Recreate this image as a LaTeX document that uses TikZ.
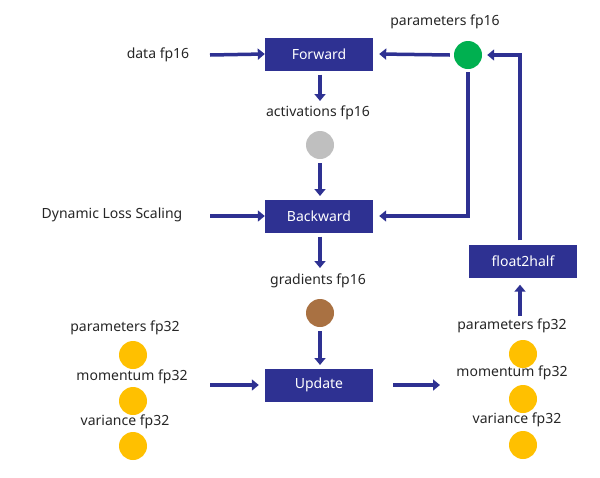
\documentclass[tikz,border=0pt]{standalone}
\usepackage{fontspec}
\setmainfont{Noto Sans}
\usetikzlibrary{arrows.meta}
\definecolor{nv}{HTML}{2E3192}
\definecolor{gr}{HTML}{00B050}
\definecolor{gy}{HTML}{BFBFBF}
\definecolor{br}{HTML}{A97142}
\definecolor{yl}{HTML}{FFC000}
\begin{document}
\begin{tikzpicture}[x=1pt,y=-1pt,font=\fontsize{14}{16}\selectfont,
 box/.style={fill=nv,text=white,minimum width=108pt,minimum height=33pt,inner sep=0pt},
 dot/.style={circle,fill=#1,minimum size=28pt,inner sep=0pt},
 lab/.style={inner sep=1pt,text=black!85},
 ar/.style={draw=nv,line width=3.5pt,-{Triangle[length=7pt,width=11pt]}}]
\useasboundingbox (0,0) rectangle (600,477);
\node[box] (fw) at (319,54) {Forward};
\node[box] (bw) at (319,216) {Backward};
\node[box] (up) at (319,385) {Update};
\node[box] (f2h) at (523,261) {float2half};
\node[lab] (data) at (158,55) {data fp16};
\node[lab] (dls) at (112,215) {Dynamic Loss Scaling};
\node[dot=gr] (p16) at (468,55) {};
\node[lab] (p16t) at (445,22) {parameters fp16};
\node[lab] (act) at (318,113) {activations fp16};
\node[dot=gy] (a16) at (320,145) {};
\node[lab] (grd) at (318,281) {gradients fp16};
\node[dot=br] (g16) at (320,313) {};
\node[lab] (lp) at (125,328) {parameters fp32};
\node[dot=yl] (lpc) at (133,355) {};
\node[lab] (lm) at (132,377) {momentum fp32};
\node[dot=yl] (lmc) at (133,401) {};
\node[lab] (lv) at (125,422) {variance fp32};
\node[dot=yl] (lvc) at (133,446) {};
\node[lab] (rp) at (512,326) {parameters fp32};
\node[dot=yl] (rpc) at (523,354) {};
\node[lab] (rm) at (512,373) {momentum fp32};
\node[dot=yl] (rmc) at (523,399) {};
\node[lab] (rv) at (517,420) {variance fp32};
\node[dot=yl] (rvc) at (523,445) {};
\coordinate (din) at (210,55);
\coordinate (lsin) at (210,216);
\coordinate (lin) at (210,385);
\coordinate (rout) at (440,385);
\draw[ar] (din) -- (fw.west);
\draw[ar] (lsin) -- (bw.west);
\draw[ar] (p16.west)++(-4,0) -- ([xshift=6pt]fw.east);
\draw[ar] (fw.south)++(1,4) -- (320,101);
\draw[ar] (a16.south)++(0,4) -- (320,196);
\draw[ar] (bw.south)++(1,4) -- (320,268);
\draw[ar] (g16.south)++(0,4) -- (320,365);
\draw[ar] (p16.south)++(0,3) |- ([xshift=6pt]bw.east);
\draw[ar] (f2h.north)++(-3,-4) |- ([xshift=5pt]p16.east);
\draw[ar] (520,316) -- ([xshift=-3pt,yshift=-7pt]f2h.south);
\draw[ar] (lin) -- ([xshift=-6pt]up.west);
\draw[ar] ([xshift=20pt]up.east) -- (rout);
\end{tikzpicture}
\end{document}
